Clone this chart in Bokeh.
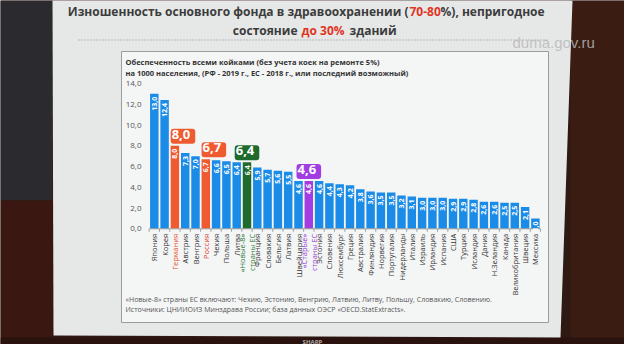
import math
from bokeh.plotting import figure
from bokeh.models import Range1d, ColumnDataSource
from bokeh.embed import file_html
from bokeh.resources import INLINE
from bokeh.core.properties import value

# ---------------- data ----------------
countries = ["Япония", "Корея", "Германия", "Австрия", "Венгрия", "Россия", "Чехия",
             "Польша", "Литва", "«Новые-8»\nстраны ЕС", "Франция", "Словакия", "Бельгия",
             "Латвия", "Швейцария", "«Старые»\nстраны ЕС", "Эстония", "Словения",
             "Люксембург", "Греция", "Австралия", "Финляндия", "Норвегия", "Португалия",
             "Нидерланды", "Италия", "Израиль", "Ирландия", "Испания", "США", "Турция",
             "Исландия", "Дания", "Н.Зеландия", "Канада", "Великобритания", "Швеция", "Мексика"]
beds = [13.0, 12.4, 8.0, 7.3, 7.0, 6.7, 6.6, 6.5, 6.4, 6.4, 5.9, 5.7, 5.6, 5.5, 4.6, 4.6,
        4.6, 4.4, 4.3, 4.2, 3.8, 3.6, 3.5, 3.5, 3.2, 3.1, 3.0, 3.0, 3.0, 2.9, 2.9, 2.8,
        2.6, 2.6, 2.5, 2.5, 2.1, 1.0]
highlight_names = ["Германия", "Россия", "«Новые-8»\nстраны ЕС", "«Старые»\nстраны ЕС"]
highlight_colors = ["#EF5B30", "#EF5B30", "#1F6B2E", "#A13DE3"]
highlight_label_colors = ["#E8502A", "#E23A28", "#2A7A36", "#9A3AD8"]
y_ticks = [0, 2, 4, 6, 8, 10, 12, 14]
y_tick_labels = ["0,0", "2,0", "4,0", "6,0", "8,0", "10,0", "12,0", "14,0"]

title_l1 = ["Изношенность основного фонда в здравоохранении (", "70-80", "%), непригодное"]
title_l2 = ["состояние", "до 30%", "зданий"]
chart_title = ["Обеспеченность всеми койками (без учета коек на ремонте 5%)",
               "на 1000 населения, (РФ - 2019 г., ЕС - 2018 г., или последний возможный)"]
notes = ["«Новые-8» страны ЕС включают: Чехию, Эстонию, Венгрию, Латвию, Литву, Польшу, Словакию, Словению.",
         "Источники: ЦНИИОИЗ Минздрава России; база данных ОЭСР «OECD.StatExtracts»."]

def fmt(v):
    return f"{v:.1f}".replace(".", ",")

BLUE = "#1A8BE6"
FONT = value("Open Sans")

# ---------------- figure (frame = whole canvas, reference pixel coords) ----------------
W, H = 624, 344
p = figure(width=W, height=H, x_range=Range1d(0, W), y_range=Range1d(H, 0),
           output_backend="svg", toolbar_location=None, min_border=0,
           x_axis_location=None, y_axis_location=None)
p.grid.visible = False
p.outline_line_color = None
p.background_fill_color = "#2E1913"
p.border_fill_color = "#2E1913"

# bar-space ranges: index i -> px 153.8 + 10.3 i ; value v -> py 228.3 - 10.38 v
PXU, X0 = 10.3, 153.8
PYU, Y0 = 10.38, 228.3
p.extra_x_ranges = {"bx": Range1d((0 - X0) / PXU, (W - X0) / PXU)}
p.extra_y_ranges = {"by": Range1d((Y0 - H) / PYU, (Y0 - 0) / PYU)}

# background: bezel tones and slide
p.quad(left=0, right=52, top=0, bottom=200, fill_color="#2B2A2F", line_color=None)
p.quad(left=0, right=52, top=200, bottom=344, fill_color="#3A1710", line_color=None)
p.quad(left=570, right=624, top=0, bottom=344, fill_color="#3B1C12", line_color=None)
p.quad(left=0, right=624, top=337, bottom=344, fill_color="#2A130E", line_color=None)
p.patch(x=[52, 572, 560, 53], y=[0, 0, 337, 335], fill_color="#E6E8E8", line_color=None)

# title
tkw = dict(text_font=FONT, text_font_style="bold", text_font_size="12px", text_baseline="middle")
p.text(x=[408], y=[11], text=[title_l1[0]], text_align="right", text_color="#3C3C3C", **tkw)
p.text(x=[409], y=[11], text=[title_l1[1]], text_align="left", text_color="#E0341E", **tkw)
p.text(x=[440], y=[11], text=[title_l1[2]], text_align="left", text_color="#3C3C3C", **tkw)
p.text(x=[297], y=[30], text=[title_l2[0]], text_align="right", text_color="#3C3C3C", **tkw)
p.text(x=[301], y=[30], text=[title_l2[1]], text_align="left", text_color="#E0341E", **tkw)
p.text(x=[349], y=[30], text=[title_l2[2]], text_align="left", text_color="#3C3C3C", **tkw)
p.line(x=[78, 548], y=[39.5, 39.5], line_color="#8A8A8A", line_dash="1 2", line_width=1)
p.text(x=[512], y=[42], text=["duma.gov.ru"], text_font=value("Liberation Sans"),
       text_font_size="15px", text_color="#B9B9B9", text_alpha=0.85, text_baseline="middle")

# chart box
p.quad(left=121, right=548, top=51, bottom=322, fill_color="#F4F5F5", line_color="#9C9C9C", line_width=1)
p.text(x=[125, 125], y=[61, 72], text=chart_title, text_font=FONT, text_font_style="bold",
       text_font_size="7.5px", text_color="#333333", text_baseline="middle")
p.text(x=[125, 125], y=[299, 309], text=notes, text_font=FONT, text_font_size="7px",
       text_color="#555555", text_baseline="middle")

# y tick labels
p.text(x=[141] * len(y_ticks), y=y_ticks, text=y_tick_labels, y_range_name="by",
       text_font=FONT, text_font_size="8px", text_color="#555555",
       text_align="right", text_baseline="middle")

# bars
idx = list(range(len(countries)))
bar_colors = [highlight_colors[highlight_names.index(c)] if c in highlight_names else BLUE for c in countries]
lab_colors = [highlight_label_colors[highlight_names.index(c)] if c in highlight_names else "#333333" for c in countries]
src = ColumnDataSource(dict(x=idx, v=beds, name=countries, lbl=[fmt(v) for v in beds],
                            col=bar_colors, lcol=lab_colors))
p.vbar(x="x", top="v", bottom=0, width=0.82, fill_color="col", line_color=None, source=src,
       x_range_name="bx", y_range_name="by")

# baseline and category ticks
p.segment(x0=[-0.5], x1=[len(countries) - 0.5], y0=[0], y1=[0], line_color="#A0A0A0",
          x_range_name="bx", y_range_name="by")
sep = [i - 0.5 for i in range(len(countries) + 1)]
p.segment(x0=sep, x1=sep, y0=[0] * len(sep), y1=[-3 / PYU] * len(sep), line_color="#A0A0A0",
          x_range_name="bx", y_range_name="by")

# values inside bars
p.text(x="x", y="v", text="lbl", source=src, angle=math.pi / 2, text_align="right",
       text_baseline="middle", y_offset=3, text_color="white", text_font=FONT,
       text_font_style="bold", text_font_size="7px", x_range_name="bx", y_range_name="by")

# category labels
p.text(x="x", y=0, text="name", source=src, angle=math.pi / 2, text_align="right",
       text_baseline="middle", y_offset=5, text_color="lcol", text_font=FONT,
       text_font_size="7.5px", x_range_name="bx", y_range_name="by", text_line_height=1.0)

# badges
bx_left, by_left, bt_left, bc_left = [], [], [], []
bx_c, by_c, bt_c, bc_c = [], [], [], []
for n, c in zip(highlight_names, highlight_colors):
    i = countries.index(n)
    if "\n" in n:
        bx_c.append(i); by_c.append(beds[i]); bt_c.append(fmt(beds[i])); bc_c.append(c)
    else:
        bx_left.append(i - 0.41); by_left.append(beds[i]); bt_left.append(fmt(beds[i])); bc_left.append(c)
bkw = dict(text_font=FONT, text_font_style="bold", text_font_size="13px", text_color="white",
           text_baseline="bottom", y_offset=-2, padding=(1, 5, 1, 5), border_radius=3,
           x_range_name="bx", y_range_name="by")
p.text(x=bx_left, y=by_left, text=bt_left, text_align="left", background_fill_color=bc_left, **bkw)
p.text(x=bx_c, y=by_c, text=bt_c, text_align="center", background_fill_color=bc_c, **bkw)

# bezel brand
p.text(x=[312], y=[341], text=["SHARP"], text_font=FONT, text_font_style="bold",
       text_font_size="6px", text_color="#B5A9A6", text_align="center", text_baseline="middle")

open("out.html", "w").write(file_html(p, INLINE))
